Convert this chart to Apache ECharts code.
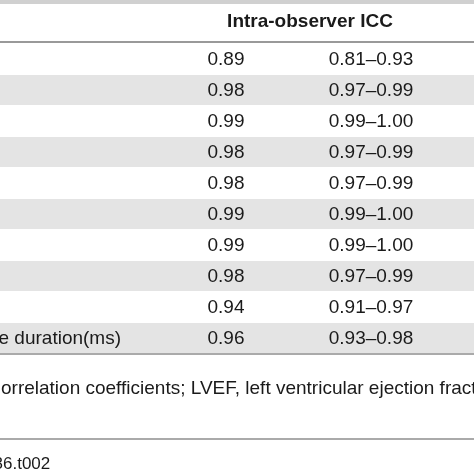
<!DOCTYPE html><html><head><meta charset="utf-8"><script src="https://cdn.jsdelivr.net/npm/echarts@6/dist/echarts.min.js"></script>
<style>html,body{margin:0;padding:0;background:#fff}#c{width:474px;height:474px}</style></head><body><div id="c"></div><script>
var rowLabels=['','','','','','','','','','P-wave duration(ms)'];
var iccValues=['0.89','0.98','0.99','0.98','0.98','0.99','0.99','0.98','0.94','0.96'];
var ciValues=['0.81–0.93','0.97–0.99','0.99–1.00','0.97–0.99','0.97–0.99','0.99–1.00','0.99–1.00','0.97–0.99','0.91–0.97','0.93–0.98'];
var header='Intra-observer ICC';
var footnote='orrelation coefficients; LVEF, left ventricular ejection fraction.';
var doiText='6.t002';
var F='"Liberation Sans", Arial, sans-serif';
var chart=echarts.init(document.getElementById('c'));
var data=rowLabels.map(function(l,i){return [i,l,iccValues[i],ciValues[i]];});
chart.setOption({
 animation:false,
 grid:{left:0,right:0,top:44,bottom:120},
 xAxis:{type:'value',min:0,max:474,show:false},
 yAxis:{type:'category',data:rowLabels.map(function(_,i){return i;}),inverse:true,show:false},
 series:[{type:'custom',data:data,encode:{y:0},renderItem:function(p,api){
   var i=api.value(0);var c=api.coord([0,i]);var h=api.size([0,1])[1];
   var ch=[];
   if(i%2===1)ch.push({type:'rect',shape:{x:0,y:c[1]-h/2,width:474,height:h-1},style:{fill:'#e4e4e4'}});
   var ts={fontSize:19,fontFamily:F,fill:'#1a1a1a',textVerticalAlign:'middle'};
   ch.push({type:'text',style:Object.assign({},ts,{text:rowLabels[i],x:api.coord([121,i])[0],y:c[1],textAlign:'right'})});
   ch.push({type:'text',style:Object.assign({},ts,{text:iccValues[i],x:api.coord([226,i])[0],y:c[1],textAlign:'center'})});
   ch.push({type:'text',style:Object.assign({},ts,{text:ciValues[i],x:api.coord([371,i])[0],y:c[1],textAlign:'center'})});
   return {type:'group',children:ch};
 }}],
 graphic:[
  {type:'rect',shape:{x:0,y:0,width:474,height:4},style:{fill:'#d0d0d0'}},
  {type:'text',style:{text:header,x:310,y:22,textAlign:'center',textVerticalAlign:'middle',fontSize:19,fontWeight:'bold',fontFamily:F,fill:'#1a1a1a'}},
  {type:'rect',shape:{x:0,y:41,width:474,height:2},style:{fill:'#999'}},
  {type:'rect',shape:{x:0,y:353,width:474,height:2},style:{fill:'#aaa'}},
  {type:'text',style:{text:footnote,x:1,y:389,textVerticalAlign:'middle',fontSize:19,fontFamily:F,fill:'#1a1a1a'}},
  {type:'rect',shape:{x:0,y:438,width:474,height:2},style:{fill:'#aaa'}},
  {type:'text',style:{text:'3',x:3,y:464,textAlign:'right',textVerticalAlign:'middle',fontSize:17,fontFamily:F,fill:'#1a1a1a'}},
  {type:'text',style:{text:doiText,x:3,y:464,textVerticalAlign:'middle',fontSize:17,fontFamily:F,fill:'#1a1a1a'}}
 ]
});
</script></body></html>
